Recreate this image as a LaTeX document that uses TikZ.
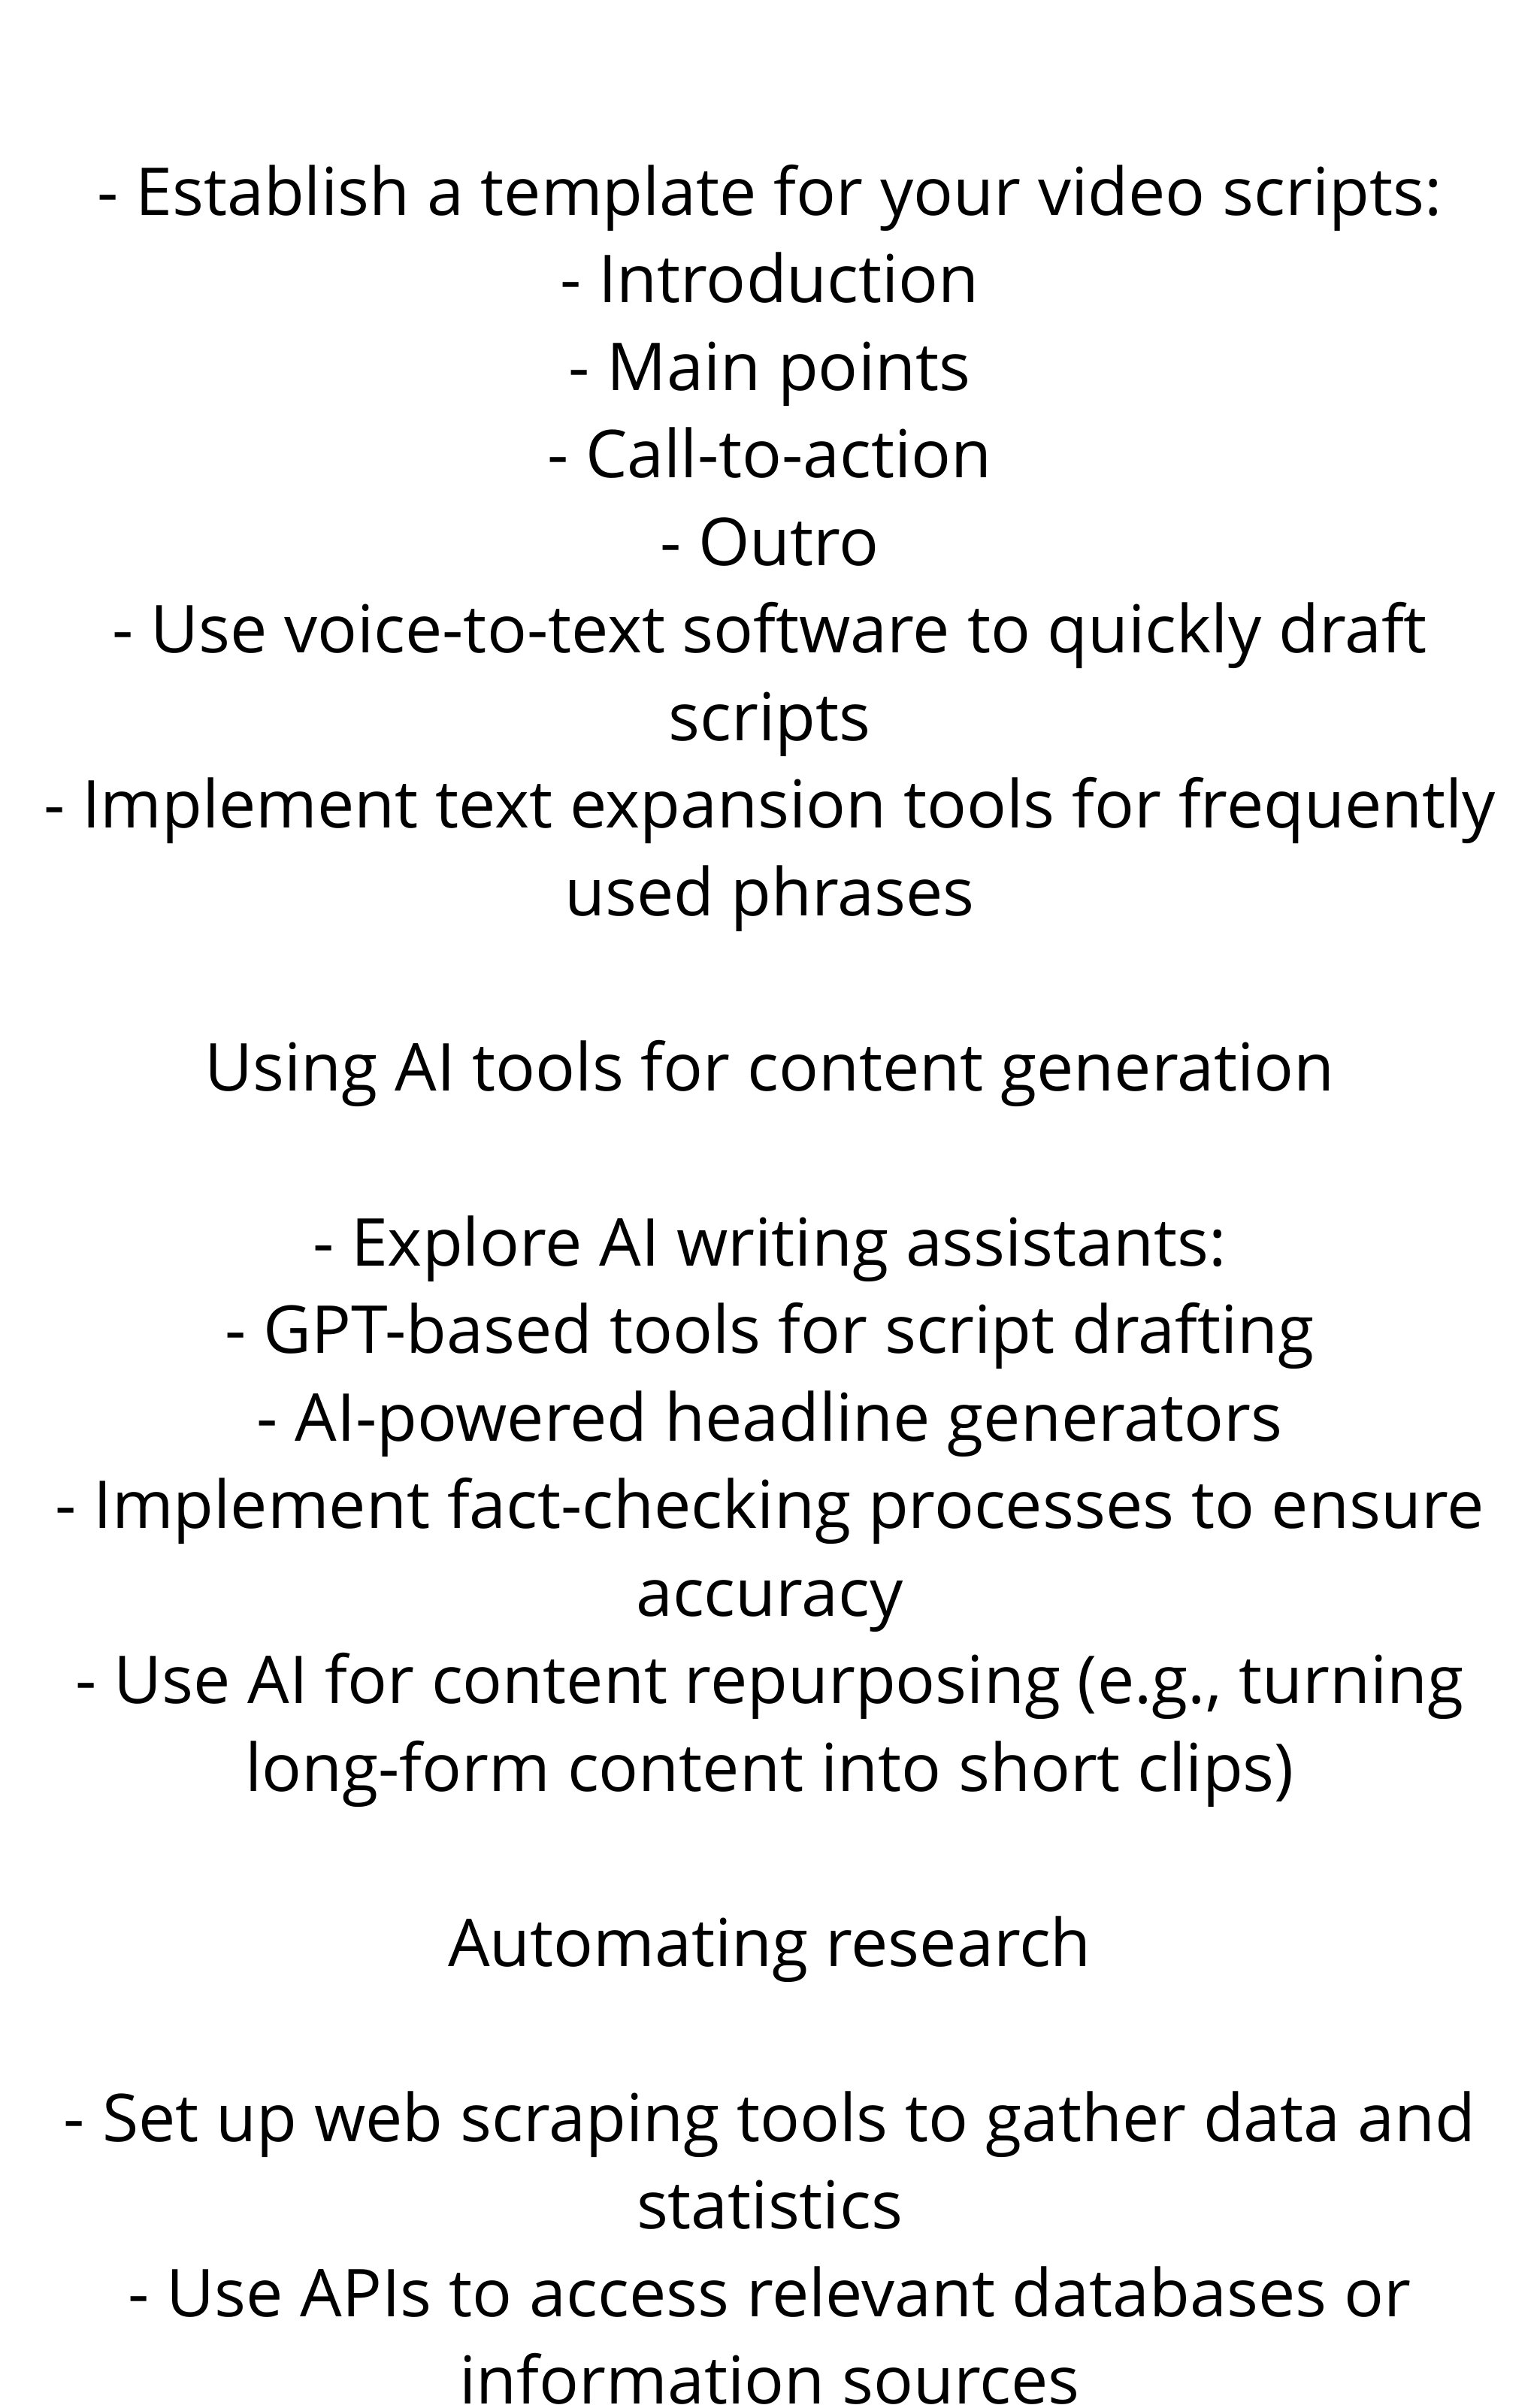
\documentclass[tikz,border=0pt]{standalone}
\usepackage{fontspec}
\setmainfont{Open Sans}
\begin{document}
\begin{tikzpicture}[x=1cm,y=1cm,t/.style={anchor=base,inner sep=0pt,font=\fontsize{25}{30}\selectfont}]
\useasboundingbox (0,0) rectangle (20.48,-32);
\clip (0,0) rectangle (20.48,-32);
\foreach \i/\s in {0/{- Establish a template for your video scripts:},1/{- Introduction},2/{- Main points},3/{- Call-to-action},4/{- Outro},5/{- Use voice-to-text software to quickly draft},6/{scripts},7/{- Implement text expansion tools for frequently},8/{used phrases},10/{Using AI tools for content generation},12/{- Explore AI writing assistants:},13/{- GPT-based tools for script drafting},14/{- AI-powered headline generators},15/{- Implement fact-checking processes to ensure},16/{accuracy},17/{- Use AI for content repurposing (e.g., turning},18/{long-form content into short clips)},20/{Automating research},22/{- Set up web scraping tools to gather data and},23/{statistics},24/{- Use APIs to access relevant databases or},25/{information sources}}
  \node[t] (l\i) at (10.24,{-2.86-1.165*\i}) {\s};
\end{tikzpicture}
\end{document}
